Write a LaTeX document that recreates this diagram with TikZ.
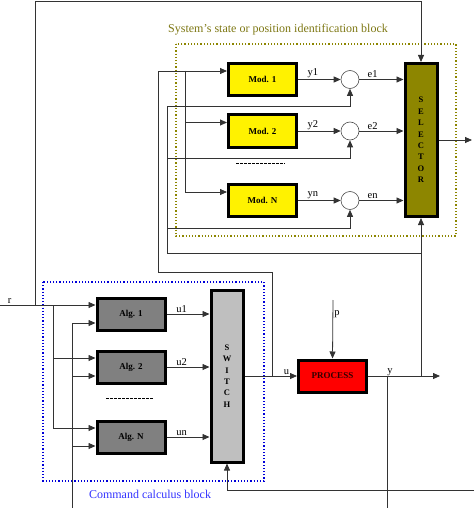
\documentclass[tikz,border=0pt]{standalone}
\usepackage{fontspec}
\setmainfont{Liberation Serif}
\usepackage{tikz}
\usetikzlibrary{arrows.meta}

\begin{document}
\begin{tikzpicture}[x=1pt,y=-1pt,
    wire/.style={draw=black!80,line width=0.8pt},
    arr/.style={wire,-{Triangle[length=7pt,width=6pt]}},
    blk/.style={draw=black,line width=3pt,minimum width=68pt,minimum height=32pt,inner sep=0pt,font=\fontsize{9}{10}\selectfont\bfseries},
    modbox/.style={blk,fill=yellow},
    algbox/.style={blk,fill=gray},
    summer/.style={circle,draw=black!70,line width=0.6pt,minimum size=18pt,inner sep=0pt,fill=white},
    tallbox/.style={draw=black,line width=3pt,minimum width=32pt,inner sep=0pt,align=center,font=\fontsize{8.5}{11.4}\selectfont\bfseries},
    lbl/.style={font=\fontsize{10.5}{11}\selectfont,inner sep=1pt}
]
    \useasboundingbox (0,0) rectangle (474,508);

    \draw[olive,line width=1.2pt,dotted] (176,44) rectangle (456,236);
    \draw[blue!85!black,line width=1.2pt,dotted] (43,282) rectangle (264,481);
    \node[font=\fontsize{12}{13}\selectfont,text=olive!85!black] (titleS) at (278,30) {System’s state or position identification block};
    \node[font=\fontsize{12}{13}\selectfont,text=blue!80] (titleC) at (150,494) {Command calculus block};

    \node[modbox] (mod1) at (262.5,79.5) {Mod. 1};
    \node[modbox] (mod2) at (262.5,131) {Mod. 2};
    \node[modbox] (modn) at (262.5,200.5) {Mod. N};
    \node[summer] (s1) at (350,79.5) {};
    \node[summer] (s2) at (350,131) {};
    \node[summer] (sn) at (350,200.5) {};
    \node[tallbox,fill=olive,minimum height=153pt] (sel) at (421,140) {S\\E\\L\\E\\C\\T\\O\\R};

    \node[algbox] (alg1) at (131,314) {Alg. 1};
    \node[algbox] (alg2) at (131,367) {Alg. 2};
    \node[algbox] (algn) at (131,437) {Alg. N};
    \node[tallbox,fill=gray!50,minimum height=172pt] (sw) at (227,376) {S\\W\\I\\T\\C\\H};
    \node[blk,fill=red,text=black!80!red] (proc) at (332.5,376) {PROCESS};

    \draw[dash pattern=on 3pt off 1pt,line width=0.6pt] (236,163) -- (285,163);
    \draw[dash pattern=on 3pt off 1pt,line width=0.6pt] (106,398) -- (153,398);

    % named junctions
    \coordinate (top) at (0,1.5);
    \coordinate (rin) at (0,305);
    \coordinate (rup) at (35,305);
    \coordinate (rsplit) at (53,305);
    \coordinate (ybot) at (72,508);
    \coordinate (usplit) at (272,376);
    \coordinate (uturn) at (158,272);
    \coordinate (msplit) at (185,71);
    \coordinate (fbr) at (421,253);
    \coordinate (fbl) at (167,253);
    \coordinate (v) at (387,376);
    \coordinate (vsel) at (421,376);
    \coordinate (yout) at (440,376);
    \coordinate (vbot) at (387,508);
    \coordinate (pin) at (333,300);
    \coordinate (selout) at (472,140);
    \coordinate (swfb) at (474,490);

    % identification block
    \draw[arr] (usplit) |- (uturn) |- ([yshift=8.5pt]mod1.west);
    \foreach \m in {mod2,modn}
        \draw[arr] (msplit) |- ([yshift=8.5pt]\m.west);
    \foreach \m/\s/\t in {mod1/s1/y1,mod2/s2/y2,modn/sn/yn}
        \draw[arr] (\m.east) -- node[lbl,above,pos=0.35] {\t} (\s.west);
    \foreach \s/\t in {s1/e1,s2/e2,sn/en}
        \draw[arr] (\s.east) -- node[lbl,above,pos=0.3] {\t} (\s.east -| sel.west);
    \draw[wire] (fbr) -- (fbl) -- (167,106);
    \foreach \s/\yy in {s1/106,s2/158,sn/228}
        \draw[arr] (167,\yy) -| (\s.south);
    \draw[arr] (sel.east) -- (selout);
    \draw[arr] (rup) |- (sel.north |- top) -- (sel.north);

    % command block
    \draw[arr] (rin) -- node[lbl,above,pos=0.1] {r} ([yshift=9pt]alg1.west);
    \foreach \a in {alg2,algn}
        \draw[arr] (rsplit) |- ([yshift=9pt]\a.west);
    \foreach \a in {alg1,alg2,algn}
        \draw[arr] (ybot) |- ([yshift=-9pt]\a.west);
    \foreach \a/\u in {alg1/u1,alg2/u2,algn/un}
        \draw[arr] (\a.east) -- node[lbl,above,pos=0.35] {\u} (\a.east -| sw.west);
    \draw[arr] (sw.east) -- node[lbl,above,pos=0.8] {u} (proc.west);
    \draw[arr] (swfb) -| (sw.south);

    % process
    \draw[arr] (pin) -- node[lbl,right,pos=0.25] {p} (proc.north);
    \draw[wire] (proc.east) -- (v) node[lbl,above right,inner sep=0pt] {y};
    \draw[arr] (v) -- (yout);
    \draw[arr] (vsel) -- (sel.south);
    \draw[wire] (v) -- (vbot);
\end{tikzpicture}
\end{document}
